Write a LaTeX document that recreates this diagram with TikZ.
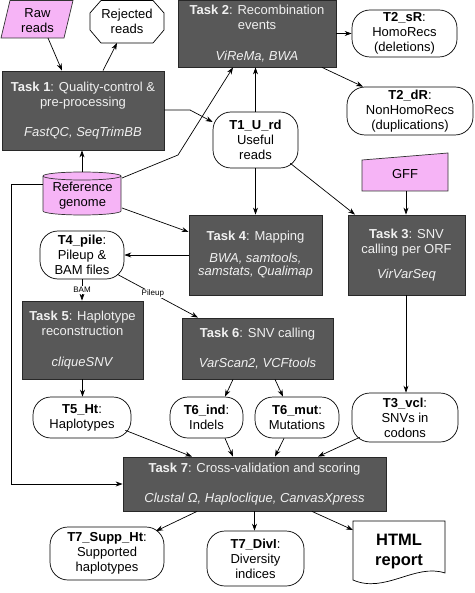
\documentclass[tikz,border=0pt]{standalone}
\usepackage{fontspec}
\setmainfont{Liberation Sans}
\usetikzlibrary{arrows.meta,calc}
\definecolor{pinkf}{RGB}{246,180,246}
\definecolor{darkf}{RGB}{88,88,88}
\definecolor{darkb}{RGB}{40,40,40}
\definecolor{lightt}{RGB}{240,240,240}
\begin{document}
\begin{tikzpicture}[x=1pt,y=-1pt,
  every node/.style={font=\fontsize{13}{15}\selectfont, inner sep=0pt},
  task/.style={draw=darkb, fill=darkf, text=lightt, align=center, line width=0.8pt},
  data/.style={draw=black, fill=white, rounded corners=18pt, align=center, line width=0.7pt},
  pinkshape/.style={draw=black!80, fill=pinkf, line width=0.7pt},
  plainshape/.style={draw=black, fill=white, line width=0.7pt},
  lbl/.style={align=center},
  arr/.style={-{Stealth[length=7pt,width=5pt]}, line width=0.7pt},
  edgelab/.style={font=\fontsize{8}{9}\selectfont, fill=white, inner sep=1pt}]
\useasboundingbox (0,0) rectangle (474,593);

% ---- special shapes
\draw[pinkshape] (10,0.5) -- (73,0.5) -- (64,38) -- (1,38) -- cycle;
\node[lbl] (raw) at (37.5,20.5) {Raw\\reads};
\coordinate (rawb) at (48,38);

\draw[plainshape] (101,0.5) -- (153,0.5) -- (164,13) -- (164,30) -- (153,43) -- (101,43) -- (90,30) -- (90,13) -- cycle;
\node[lbl] (rej) at (127,21.5) {Rejected\\reads};
\coordinate (rejb) at (117,43);

\draw[pinkshape] (43,176) -- (43,211) arc[start angle=180, end angle=360, x radius=39pt, y radius=4pt] -- (121,176) arc[start angle=0, end angle=180, x radius=39pt, y radius=4pt] -- cycle;
\draw[line width=0.7pt, draw=black!80] (43,176) arc[start angle=180, end angle=360, x radius=39pt, y radius=4pt];
\node[lbl] (ref) at (82.5,196) {Reference\\genome};
\coordinate (reftop) at (82,172);
\coordinate (refw) at (43,184);
\coordinate (refne) at (122,178);
\coordinate (refse) at (122,208);

\draw[pinkshape] (362,160) -- (448,153) -- (448,191) -- (362,191) -- cycle;
\node[lbl] (gff) at (405,174) {GFF};
\coordinate (gffb) at (406,191);

\draw[plainshape] (353,521) -- (445,521) -- (445,573) .. controls (415,563) and (385,594) .. (353,580) -- cycle;
\node[lbl, font=\fontsize{16.5}{20}\selectfont\bfseries] (html) at (399,552) {HTML\\report};
\coordinate (htmlw) at (353,530);

% ---- task boxes
\node[task, minimum width=162pt, minimum height=79pt] (task1) at (83,110.5)
  {\textbf{Task 1}: Quality-control \&\\pre-processing\\[15pt]\textit{FastQC, SeqTrimBB}};
\node[task, minimum width=158pt, minimum height=67pt] (task2) at (257,33.5)
  {\textbf{Task 2}: Recombination\\events\\[16pt]\textit{ViReMa, BWA}};
\node[task, minimum width=133pt, minimum height=80pt] (task4) at (255.5,255)
  {\textbf{Task 4}: Mapping\\[7pt]\textit{BWA, samtools,}\\[-2pt]\textit{samstats, Qualimap}};
\node[task, minimum width=117pt, minimum height=80pt] (task3) at (406.5,255)
  {\textbf{Task 3}: SNV\\calling per ORF\\[10pt]\textit{VirVarSeq}};
\node[task, minimum width=121pt, minimum height=78pt] (task5) at (82.5,340)
  {\textbf{Task 5}: Haplotype\\reconstruction\\[16pt]\textit{cliqueSNV}};
\node[task, minimum width=151pt, minimum height=61pt] (task6) at (257.5,348.5)
  {\textbf{Task 6}: SNV calling\\[15pt]\textit{VarScan2, VCFtools}};
\node[task, minimum width=263pt, minimum height=54pt] (task7) at (254.5,484)
  {\textbf{Task 7}: Cross-validation and scoring\\[15pt]\textit{Clustal Ω, Haploclique, CanvasXpress}};

% ---- data nodes
\node[data, minimum width=105pt, minimum height=47pt] (t2sr) at (404.5,33.5)
  {\textbf{T2\_sR}:\\HomoRecs\\(deletions)};
\node[data, minimum width=126pt, minimum height=48pt] (t2dr) at (410,111)
  {\textbf{T2\_dR}:\\NonHomoRecs\\(duplications)};
\node[data, minimum width=85pt, minimum height=56pt] (t1urd) at (255.5,140)
  {\textbf{T1\_U\_rd}\\Useful\\reads};
\node[data, minimum width=84pt, minimum height=48pt] (t4pile) at (82,255)
  {\textbf{T4\_pile}:\\Pileup \&\\BAM files};
\node[data, minimum width=98pt, minimum height=41pt] (t5ht) at (82,417.5)
  {\textbf{T5\_Ht}:\\Haplotypes};
\node[data, minimum width=73pt, minimum height=41pt] (t6ind) at (206.5,417.5)
  {\textbf{T6\_ind}:\\Indels};
\node[data, minimum width=84pt, minimum height=41pt] (t6mut) at (297,417.5)
  {\textbf{T6\_mut}:\\Mutations};
\node[data, minimum width=106pt, minimum height=49pt] (t3vcl) at (405,417.5)
  {\textbf{T3\_vcl}:\\SNVs in\\codons};
\node[data, minimum width=114pt, minimum height=53pt] (t7supp) at (107,553.5)
  {\textbf{T7\_Supp\_Ht}:\\Supported\\haplotypes};
\node[data, minimum width=97pt, minimum height=55pt] (t7divi) at (255.5,558.5)
  {\textbf{T7\_DivI}:\\Diversity\\indices};

% ---- connectors
\draw[arr] (rawb) -- (62,0 |- task1.north);
\draw[arr] (103,0 |- task1.north) -- (rejb);
\draw[arr] (task1.east |- 0,110) -- (190,110) -- (t1urd.west |- 0,122);
\draw[arr] (t1urd.north) -- (t1urd.north |- task2.south);
\draw[arr] (refne) -- (178,155) -- (233,0 |- task2.south);
\draw[arr] (reftop) -- (reftop |- task1.south);
\draw[arr] (refw) -- (11,184) -- (11,0 |- task7.west) -- (task7.west);
\draw[arr] (refse) -- (task4.west |- 0,232);
\draw[arr] (t1urd.south) -- (task4.north);
\draw[arr] ($(t1urd.south east)+(-8,-5)$) -- (355,0 |- task3.north);
\draw[arr] (task2.east) -- (t2sr.west);
\draw[arr] (322,0 |- task2.south) -- (363,0 |- t2dr.north);
\draw[arr] (gffb) -- (gffb |- task3.north);
\draw[arr] (task4.west |- t4pile.east) -- (t4pile.east);
\draw[arr] (t4pile.south) -- node[edgelab] {BAM} (t4pile.south |- task5.north);
\draw[arr] ($(t4pile.south east)+(-7,-5)$) -- node[edgelab, pos=0.44] {Pileup} (198,0 |- task6.north);
\draw[arr] (406,0 |- task3.south) -- (406,0 |- t3vcl.north);
\draw[arr] (task5.south) -- (task5.south |- t5ht.north);
\draw[arr] (233,0 |- task6.south) -- (225,0 |- t6ind.north);
\draw[arr] (275,0 |- task6.south) -- (283,0 |- t6mut.north);
\draw[arr] ($(t5ht.south east)+(-6,-8)$) -- (192,0 |- task7.north);
\draw[arr] (225,0 |- t6ind.south) -- (233,0 |- task7.north);
\draw[arr] (284,0 |- t6mut.south) -- (275,0 |- task7.north);
\draw[arr] ($(t3vcl.south west)+(8,-5)$) -- (318,0 |- task7.north);
\draw[arr] (197,0 |- task7.south) -- (156,531);
\draw[arr] (task7.south) -- (task7.south |- t7divi.north);
\draw[arr] (312,0 |- task7.south) -- (htmlw);
\end{tikzpicture}
\end{document}
